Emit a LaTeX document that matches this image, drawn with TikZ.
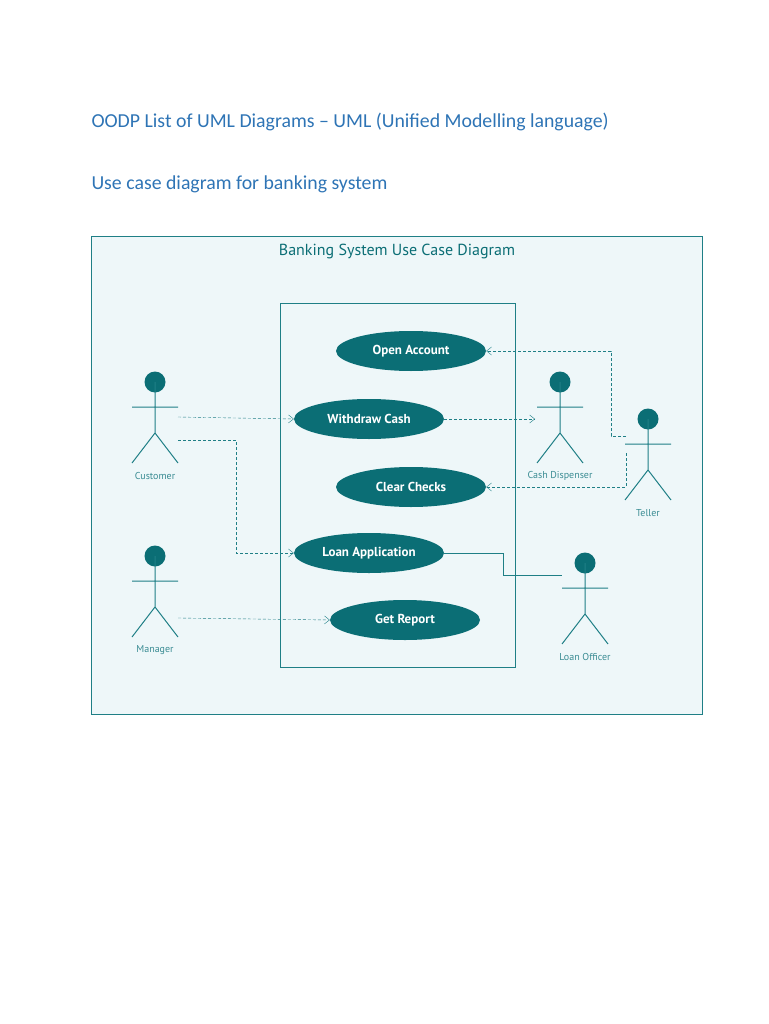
\documentclass[tikz,border=0pt]{standalone}
\usepackage{fontspec}
\setmainfont{Carlito}
\newfontfamily\diagfont{PT Sans}
\usepackage{xcolor}
\usetikzlibrary{calc,positioning,arrows.meta,shapes.geometric}
\definecolor{headblue}{HTML}{2E74B5}
\definecolor{teal}{HTML}{0B6E75}
\definecolor{lineteal}{HTML}{1F7F86}
\definecolor{lightbg}{HTML}{EEF7F9}
\definecolor{labelteal}{HTML}{3A8C93}
\tikzset{
	usecase/.style={ellipse, fill=teal, text=white, minimum width=150pt, minimum height=40pt, font=\diagfont\bfseries\fontsize{13}{13}\selectfont},
	actorlabel/.style={text=labelteal, font=\diagfont\fontsize{10}{10}\selectfont},
	link/.style={lineteal, densely dashed, -{Straight Barb[length=5pt,width=8pt]}},
	assoc/.style={lineteal}
}
\begin{document}
\begin{tikzpicture}[x=1pt,y=-1pt]
	\useasboundingbox (0,0) rectangle (768,1024);
	% Headings
	\node[anchor=west, text=headblue, font=\fontsize{19.8}{20}\selectfont] (heada) at (88,122) {OODP List of UML Diagrams – UML (Unified Modelling language)};
	\node[anchor=west, text=headblue, font=\fontsize{19.8}{20}\selectfont] (headb) at (88,184) {Use case diagram for banking system};
	% Frame
	\draw[lineteal, fill=lightbg, line width=1pt] (91,236) rectangle (702,714);
	\node[text=teal, font=\diagfont\fontsize{16}{16}\selectfont] (title) at (397,251) {Banking System Use Case Diagram};
	\draw[lineteal, line width=0.6pt] (280,303) rectangle (515,667);
	% Use cases
	\node[usecase] (open) at (411,351) {Open Account};
	\node[usecase] (withdraw) at (369,419) {Withdraw Cash};
	\node[usecase] (clear) at (411,487) {Clear Checks};
	\node[usecase] (loan) at (369,553) {Loan Application};
	\node[usecase] (report) at (405,620) {Get Report};
	% Actors
	\foreach \name/\x/\y/\lab in {customer/155/382/Customer, dispenser/560/382/Cash Dispenser, teller/648/419/Teller, manager/155/556/Manager, officer/585/563/Loan Officer}{
		\fill[teal] (\x,\y) circle (10.5);
		\draw[lineteal, line width=1pt] (\x,\y) -- (\x,\y+51) (\x-23,\y+25) -- (\x+23,\y+25)
			(\x-23,\y+81) -- (\x,\y+51) -- (\x+23,\y+81);
		\node[actorlabel] (\name) at (\x,\y+94) {\lab};
		\coordinate (\name-r) at (\x+23,\y+35);
	}
	\coordinate (customer-r2) at (178,440);
	\coordinate (manager-r2) at (178,618);
	\coordinate (dispenser-in) at (535,419);
	\coordinate (teller-a) at (626,436);
	\coordinate (teller-b) at (626,453);
	\coordinate (officer-in) at (562,575);
	% Connectors
	\draw[link] (customer-r) -- (withdraw.west);
	\draw[link] (customer-r2) -- (236,440) -- (236,553) -- (loan.west);
	\draw[link] (withdraw.east) -- (dispenser-in);
	\draw[link] (teller-a) -- (611,436) -- (611,351) -- (open.east);
	\draw[link] (teller-b) -- (626,487) -- (clear.east);
	\draw[assoc] (loan.east) -- (503,553) -- (503,575) -- (officer-in);
	\draw[link] (manager-r2) -- (report.west);
\end{tikzpicture}
\end{document}
